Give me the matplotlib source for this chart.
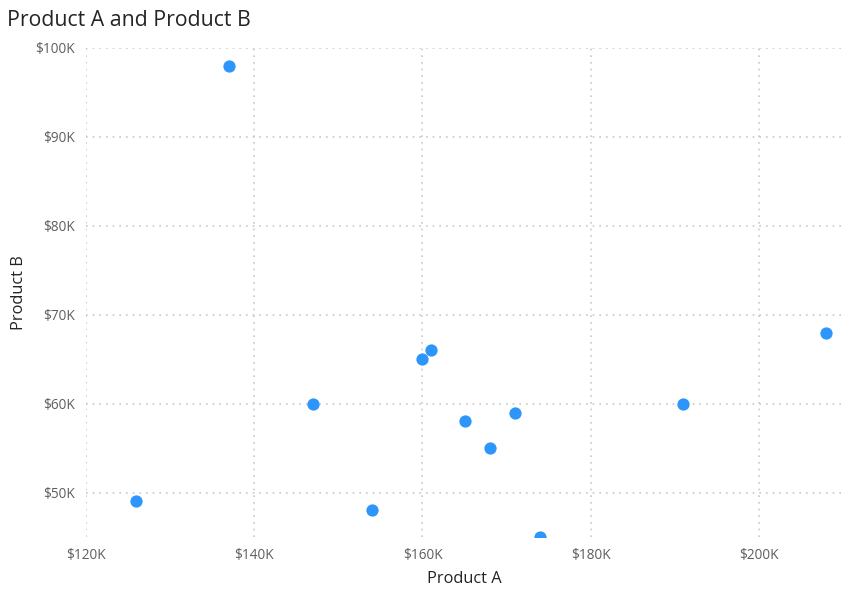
import matplotlib
matplotlib.use("Agg")
import matplotlib.pyplot as plt
from matplotlib.ticker import FuncFormatter

product_a = [126, 137, 147, 154, 160, 161, 165, 168, 171, 174, 191, 208]  # $K
product_b = [49, 98, 60, 48, 65, 66, 58, 55, 59, 45, 60, 68]  # $K
x_ticks = [120, 140, 160, 180, 200]
y_ticks = [50, 60, 70, 80, 90, 100]

plt.rcParams['font.family'] = ['Open Sans', 'DejaVu Sans']
fig = plt.figure(figsize=(8.56, 5.92), dpi=100)
ax = fig.add_axes([86/856, 1-537/592, (843-86)/856, (537-48)/592])

ax.scatter(product_a, product_b, s=78, color='#2E96FA', zorder=3, linewidths=0, clip_on=True)

ax.set_xlim(120, 210)
ax.set_ylim(45, 100)
ax.set_xticks(x_ticks)
ax.set_yticks(y_ticks)
fmt = FuncFormatter(lambda v, p: f"${int(v)}K")
ax.xaxis.set_major_formatter(fmt)
ax.yaxis.set_major_formatter(fmt)
ax.tick_params(length=0, labelsize=9.8, labelcolor='#605E5C', pad=8)
for s in ax.spines.values():
    s.set_visible(False)
ax.grid(True, color='#C8C8C8', linestyle=(0, (1, 3)), linewidth=1.2)
ax.set_axisbelow(True)

ax.set_xlabel('Product A', fontsize=11.8, color='#252423', labelpad=6)
ax.set_ylabel('Product B', fontsize=11.8, color='#252423', labelpad=6)
fig.text(7/856, 1-20/592, 'Product A and Product B', fontsize=15.3, color='#252423', va='center', ha='left')

fig.savefig('out.png', dpi=100)
